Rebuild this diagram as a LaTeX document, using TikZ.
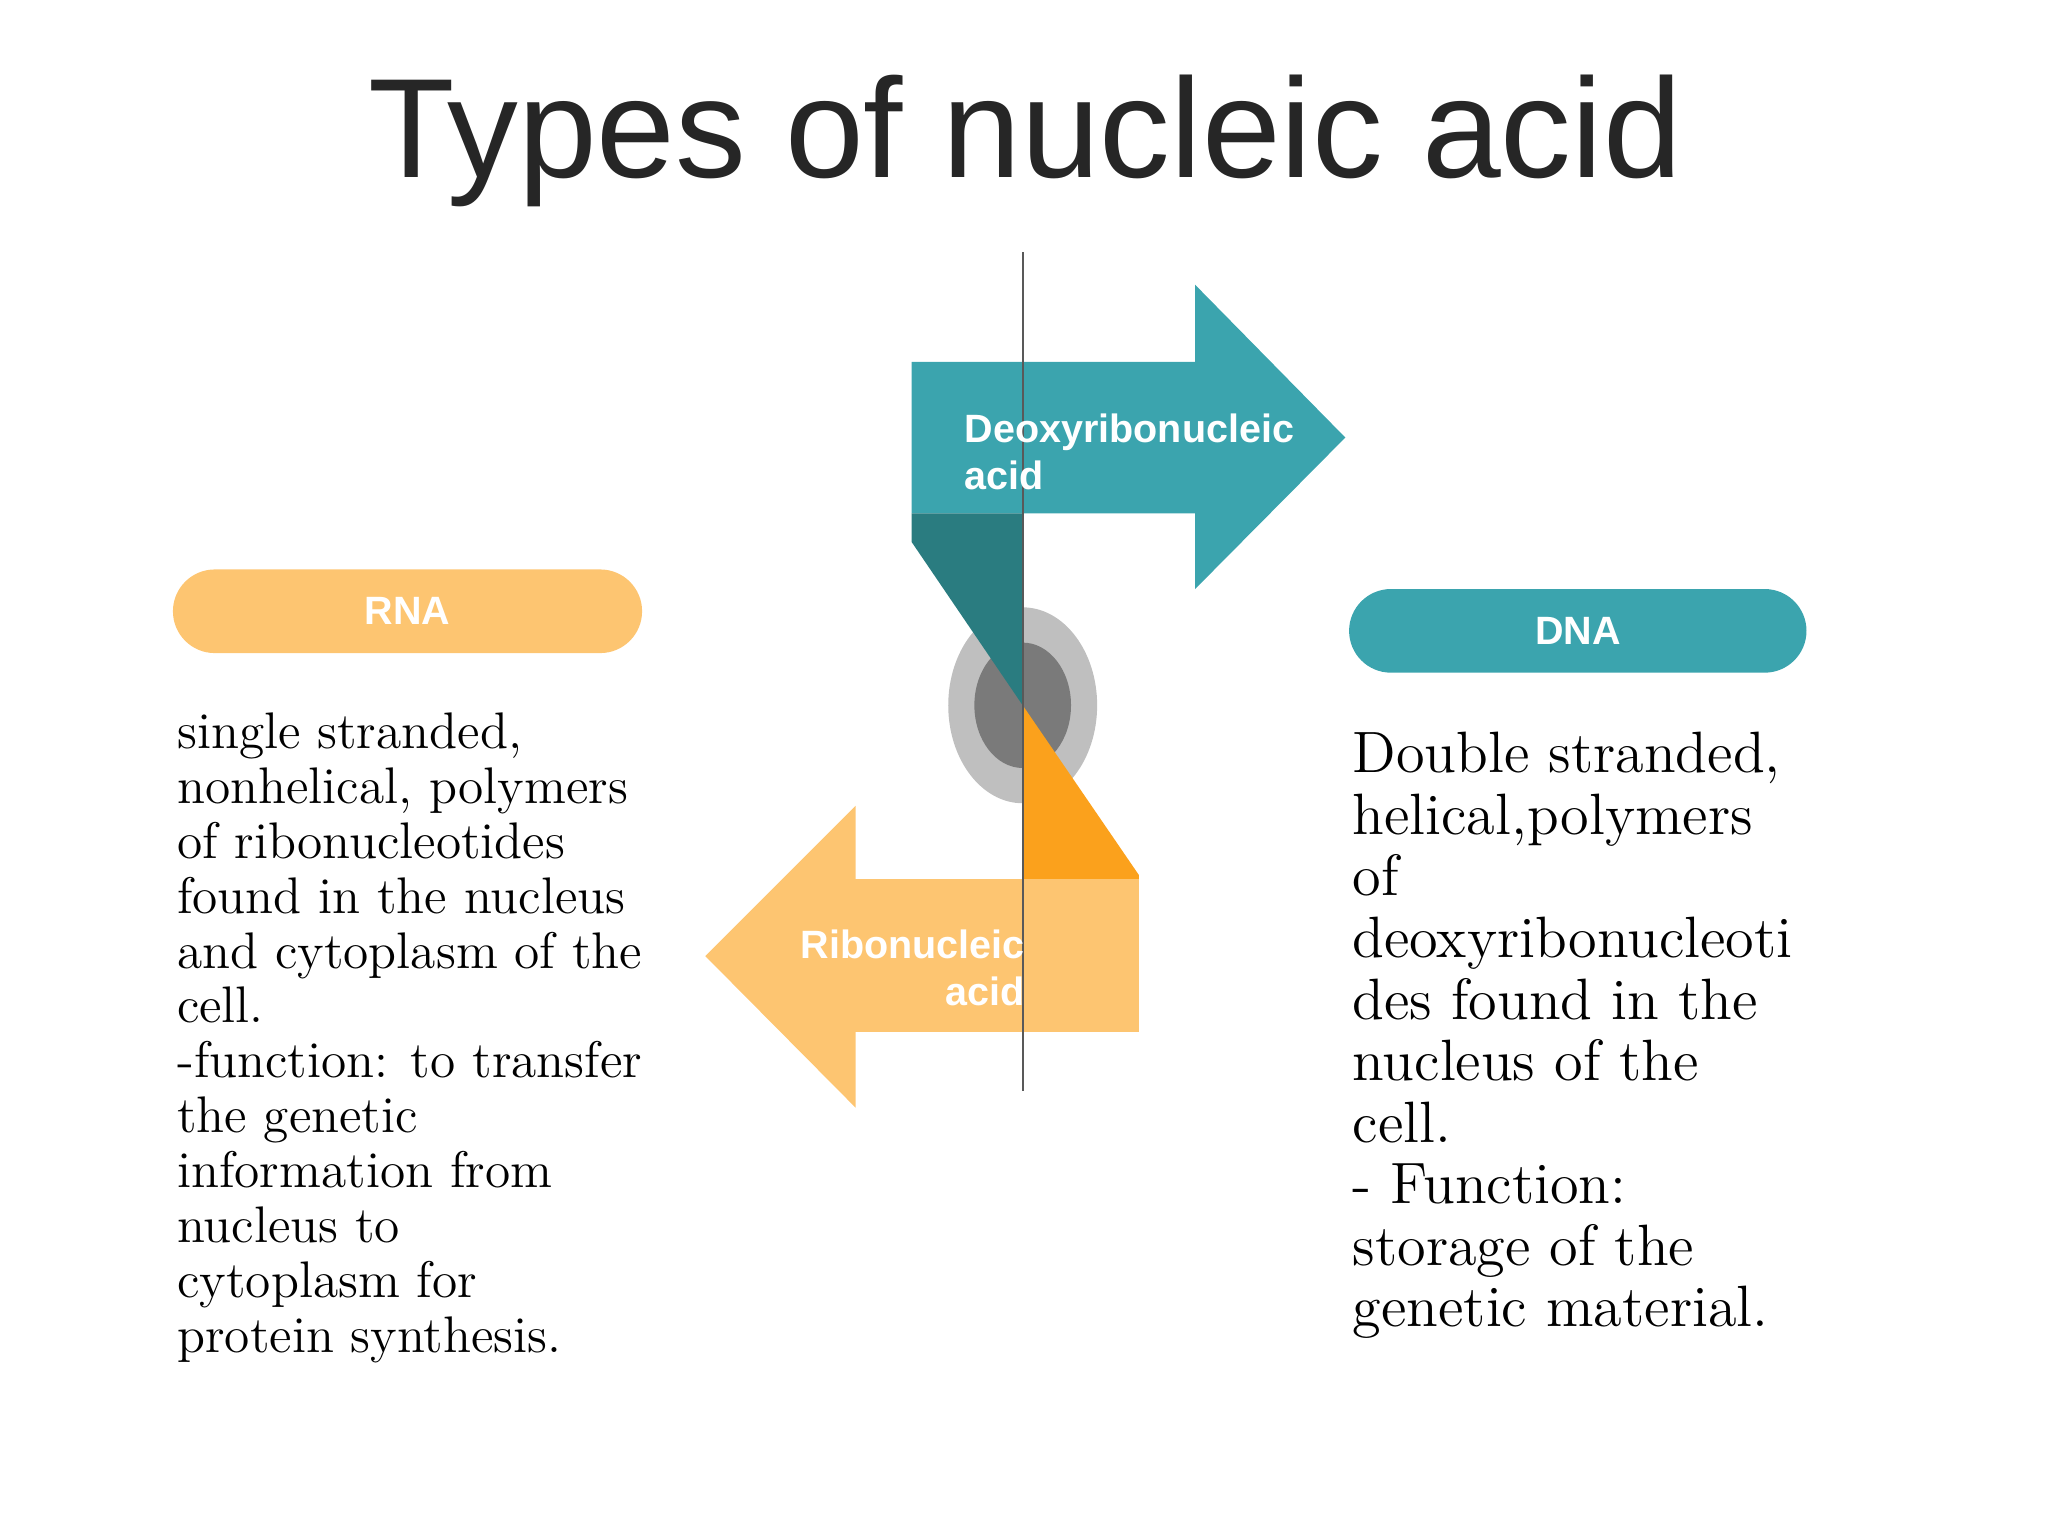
\documentclass[tikz,border=0pt]{standalone}
\usepackage{fontspec}
\setsansfont{Liberation Sans}
\begin{document}
\begin{tikzpicture}[x=0.01cm,y=-0.01cm,
  lbl/.style={text=white,font=\sffamily\bfseries\fontsize{8.6}{10.3}\selectfont},
  pill/.style={lbl,minimum width=#1,minimum height=0.64cm,rounded corners=0.32cm,inner sep=0pt},
  body/.style={anchor=north west,align=left,inner sep=0pt}]
\definecolor{teal1}{HTML}{3BA4AE}
\definecolor{teal2}{HTML}{2A7C80}
\definecolor{org1}{HTML}{FDC571}
\definecolor{org2}{HTML}{FBA11C}
\definecolor{txt}{HTML}{262626}
\useasboundingbox (0,0) rectangle (1568,1176);
\node[text=txt,font=\sffamily\fontsize{30.8}{36}\selectfont] (title) at (785,108) {Types of nucleic acid};
\coordinate (vt) at (783,193); \coordinate (vb) at (783,835);
\fill[black!25] (783,540) ellipse [x radius=57,y radius=75];
\fill[black!52] (783,540) ellipse [x radius=37,y radius=48];
\fill[teal1] (698,277) -- (915,277) -- (915,218) -- (1030,335) -- (915,451) -- (915,393) -- (698,393) -- cycle;
\fill[teal2] (698,393) -- (783,393) -- (783,540) -- (698,415) -- cycle;
\fill[org2] (783,540) -- (872,670) -- (872,673) -- (783,673) -- cycle;
\fill[org1] (872,673) -- (872,790) -- (655,790) -- (655,848) -- (540,732) -- (655,617) -- (655,673) -- cycle;
\draw[gray!70!black,line width=0.5pt] (vt) -- (vb);
\node[lbl,anchor=west,align=left,inner sep=0pt] (dna) at (738,346) {Deoxyribonucleic\\acid};
\node[lbl,anchor=east,align=right,inner sep=0pt] (rna) at (785,741) {Ribonucleic\\acid\hspace{0.9pt}};
\node[fill=org1,pill=3.59cm] (rnap) at (312,468) {RNA};
\node[fill=teal1,pill=3.50cm] (dnap) at (1208,483) {DNA};
\node[body,font=\fontsize{11.2}{11.95}\selectfont] (lt) at (135,545) {single stranded,\\nonhelical, polymers\\of ribonucleotides\\found in the nucleus\\and cytoplasm of the\\cell.\\-function: to transfer\\the genetic\\information from\\nucleus to\\cytoplasm for\\protein synthesis.};
\node[body,font=\fontsize{12.7}{13.4}\selectfont] (rt) at (1035,560) {Double stranded,\\helical,polymers\\of\\deoxyribonucleoti\\des found in the\\nucleus of the\\cell.\\- Function:\\storage of the\\genetic material.};
\end{tikzpicture}
\end{document}
